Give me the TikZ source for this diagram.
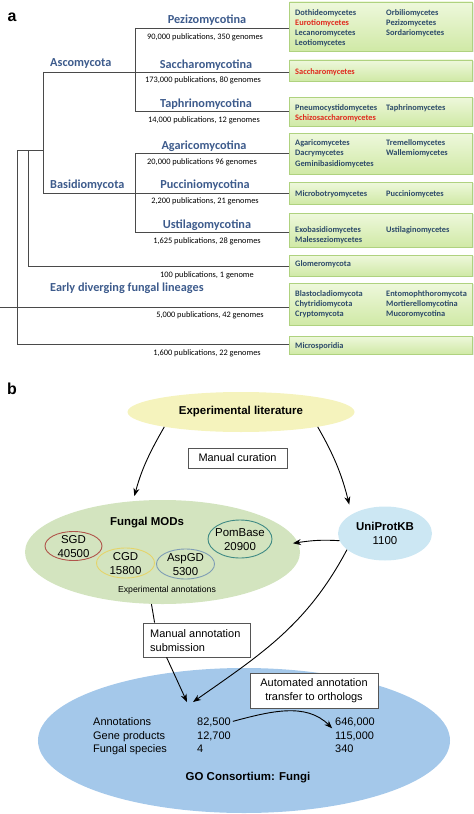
\documentclass[tikz,border=0pt]{standalone}
\usepackage{fontspec}
\setmainfont{Carlito}
\newfontfamily\arial{Liberation Sans}
\usetikzlibrary{shapes.geometric,arrows.meta,shadows,calc}
\definecolor{tline}{HTML}{4A4A4A}
\definecolor{lblue}{HTML}{3D5B8C}
\definecolor{btxt}{HTML}{2C4A6A}
\definecolor{bred}{HTML}{E02A1E}
\definecolor{gtop}{HTML}{EEF8DC}
\definecolor{gbot}{HTML}{D0E9A6}
\definecolor{gbord}{HTML}{AFD27F}
\definecolor{explitc}{HTML}{F5F3BD}
\definecolor{modsc}{HTML}{D3E4BF}
\definecolor{uniprotc}{HTML}{CCE7F3}
\definecolor{goc}{HTML}{A4C8EA}
\definecolor{sgdc}{HTML}{B0554B}
\definecolor{cgdc}{HTML}{E5D46A}
\definecolor{aspc}{HTML}{7E9DB5}
\definecolor{pomc}{HTML}{3F8A84}
\definecolor{boxln}{HTML}{555555}
\begin{document}
\begin{tikzpicture}[x=1bp,y=-1bp,
  tree/.style={draw=tline, line width=0.8bp},
  gbox/.style={rectangle, draw=gbord, line width=0.6bp, top color=gtop, bottom color=gbot,
     minimum width=183bp, inner sep=0, drop shadow={opacity=0.18,shadow xshift=1bp,shadow yshift=-1bp}},
  sub/.style={font=\fontsize{12.3}{14}\selectfont\bfseries, text=lblue, inner sep=0},
  phy/.style={sub, anchor=west},
  pub/.style={font=\fontsize{8.4}{10}\selectfont, inner sep=0},
  cls/.style={font=\fontsize{8.4}{10}\selectfont\bfseries, text=btxt, anchor=base west, inner sep=0},
  rcls/.style={cls, text=bred},
  bt/.style={font=\arial\fontsize{11}{14}\selectfont, inner sep=0},
  btb/.style={font=\arial\fontsize{11.5}{14}\selectfont\bfseries, inner sep=0},
  tbl/.style={bt, anchor=base west},
  wbox/.style={rectangle, draw=boxln, line width=0.8bp, fill=white, inner sep=0},
  ring/.style={ellipse, line width=0.9bp, inner sep=0},
  arr/.style={draw=black, line width=0.9bp, -{Stealth[length=8bp,width=6bp]}},
  panel/.style={font=\arial\fontsize{16}{18}\selectfont\bfseries, inner sep=0}
]
\useasboundingbox (0,0) rectangle (474,814);

% ---------------- panel a ----------------
\node[panel] (pa) at (12,17) {a};

% boxes
\node[gbox, minimum height=49bp] (b1) at (381,26.5) {};
\node[gbox, minimum height=21bp] (b2) at (381,70.5) {};
\node[gbox, minimum height=29bp] (b3) at (381,111.5) {};
\node[gbox, minimum height=41bp] (b4) at (381,153.5) {};
\node[gbox, minimum height=22bp] (b5) at (381,193) {};
\node[gbox, minimum height=34bp] (b6) at (381,230) {};
\node[gbox, minimum height=21bp] (b7) at (381,265.5) {};
\node[gbox, minimum height=42bp] (b8) at (381,304) {};
\node[gbox, minimum height=18bp] (b9) at (381,345) {};

% box texts
\node[cls] (c11) at (295,15.5) {Dothideomycetes};
\node[cls] (c12) at (386,15.5) {Orbiliomycetes};
\node[rcls] (c13) at (295,25.5) {Eurotiomycetes};
\node[cls] (c14) at (386,25.5) {Pezizomycetes};
\node[cls] (c15) at (295,35.5) {Lecanoromycetes};
\node[cls] (c16) at (386,35.5) {Sordariomycetes};
\node[cls] (c17) at (295,45.5) {Leotiomycetes};
\node[rcls] (c21) at (295,74.5) {Saccharomycetes};
\node[cls] (c31) at (295,110) {Pneumocystidomycetes};
\node[cls] (c32) at (386,110) {Taphrinomycetes};
\node[rcls] (c33) at (295,120) {Schizosaccharomycetes};
\node[cls] (c41) at (295,145) {Agaricomycetes};
\node[cls] (c42) at (386,145) {Tremellomycetes};
\node[cls] (c43) at (295,155.5) {Dacrymycetes};
\node[cls] (c44) at (386,155.5) {Wallemiomycetes};
\node[cls] (c45) at (295,166) {Geminibasidiomycetes};
\node[cls] (c51) at (295,196) {Microbotryomycetes};
\node[cls] (c52) at (386,196) {Pucciniomycetes};
\node[cls] (c61) at (295,232) {Exobasidiomycetes};
\node[cls] (c62) at (386,232) {Ustilaginomycetes};
\node[cls] (c63) at (295,242) {Malesseziomycetes};
\node[cls] (c71) at (295,266.5) {Glomeromycota};
\node[cls] (c81) at (295,296.5) {Blastocladiomycota};
\node[cls] (c82) at (386,296.5) {Entomophthoromycota};
\node[cls] (c83) at (295,306.5) {Chytridiomycota};
\node[cls] (c84) at (386,306.5) {Mortierellomycotina};
\node[cls] (c85) at (295,316.5) {Cryptomycota};
\node[cls] (c86) at (386,316.5) {Mucoromycotina};
\node[cls] (c91) at (295,348) {Microsporidia};

% tree joints
\coordinate (jPez) at (135,28);
\coordinate (jTap) at (135,111);
\coordinate (jAsc) at (43,72);
\coordinate (jBas) at (43,193);
\coordinate (jAga) at (135,153);
\coordinate (jUst) at (135,232);
\coordinate (jDik) at (17,150);
\coordinate (jDk2) at (43,150);
\coordinate (jGl) at (28,150);
\coordinate (jGlo) at (28,266);
\coordinate (jMic) at (17,344);
\coordinate (jEar) at (0,307);

\draw[tree] (jPez) -- (jTap);
\draw[tree] (jPez) -- (jPez -| b1.west);
\draw[tree] (jTap) -- (jTap -| b3.west);
\draw[tree] (jAsc) -- (jAsc -| b2.west);
\draw[tree] (jAsc) -- (jBas);
\draw[tree] (jBas) -- (jBas -| b5.west);
\draw[tree] (jAga) -- (jUst);
\draw[tree] (jAga) -- (jAga -| b4.west);
\draw[tree] (jUst) -- (jUst -| b6.west);
\draw[tree] (jDik) -- (jDk2);
\draw[tree] (jGl) -- (jGlo) -- (jGlo -| b7.west);
\draw[tree] (jDik) -- (jMic) -- (jMic -| b9.west);
\draw[tree] (jEar) -- (jEar -| b8.west);

% labels
\node[sub] (lPez) at (207,20) {Pezizomycotina};
\node[pub] (pPez) at (205,37) {90,000 publications, 350 genomes};
\node[phy] (lAsc) at (50,63) {Ascomycota};
\node[sub] (lSac) at (206,65) {Saccharomycotina};
\node[pub] (pSac) at (203,80) {173,000 publications, 80 genomes};
\node[sub] (lTap) at (206,104) {Taphrinomycotina};
\node[pub] (pTap) at (204,120) {14,000 publications, 12 genomes};
\node[sub] (lAga) at (204,146) {Agaricomycotina};
\node[pub] (pAga) at (202,162.5) {20,000 publications 96 genomes};
\node[phy] (lBas) at (50,185) {Basidiomycota};
\node[sub] (lPuc) at (205,185.5) {Pucciniomycotina};
\node[pub] (pPuc) at (205,201) {2,200 publications, 21 genomes};
\node[sub] (lUst) at (207,225) {Ustilagomycotina};
\node[pub] (pUst) at (207,241) {1,625 publications, 28 genomes};
\node[pub] (pGlo) at (207,275) {100 publications, 1 genome};
\node[phy] (lEar) at (50,288) {Early diverging fungal lineages};
\node[pub] (pEar) at (210,315.5) {5,000 publications, 42 genomes};
\node[pub] (pMic) at (207,353) {1,600 publications, 22 genomes};

% ---------------- panel b ----------------
\node[panel] (pb) at (12,389) {b};

\node[ellipse, fill=goc, minimum width=412bp, minimum height=145bp, inner sep=0] (go) at (244,740.5) {};
\node[ellipse, fill=explitc, minimum width=227bp, minimum height=40bp, inner sep=0,
      font=\arial\fontsize{11.5}{14}\selectfont\bfseries] (explit) at (241,412) {Experimental literature};
\node[wbox, minimum width=99bp, minimum height=20bp, font=\arial\fontsize{11}{14}\selectfont] (mcur) at (237.5,458) {Manual curation};

\node[ellipse, fill=modsc, minimum width=275bp, minimum height=104bp, inner sep=0] (mods) at (162.5,552) {};
\node[btb] (modst) at (147,523) {Fungal MODs};
\node[ring, draw=sgdc, minimum width=57bp, minimum height=29bp] (sgd) at (73.5,546) {};
\node[bt, align=center, font=\arial\fontsize{11.5}{14}\selectfont] (sgdt) at (73.5,547) {SGD\\40500};
\node[ring, draw=cgdc, minimum width=58bp, minimum height=30bp] (cgd) at (125.5,563) {};
\node[bt, align=center, font=\arial\fontsize{11.5}{14}\selectfont] (cgdt) at (125.5,563.5) {CGD\\15800};
\node[ring, draw=aspc, minimum width=58bp, minimum height=30bp] (asp) at (185.5,564) {};
\node[bt, align=center, font=\arial\fontsize{11.5}{14}\selectfont] (aspt) at (185.5,564.5) {AspGD\\5300};
\node[ring, draw=pomc, minimum width=64bp, minimum height=38bp] (pom) at (240,539) {};
\node[bt, align=center, font=\arial\fontsize{11.5}{14}\selectfont] (pomt) at (240,540) {PomBase\\20900};
\node[bt, font=\arial\fontsize{8.7}{10}\selectfont] (expann) at (167,590) {Experimental annotations};

\node[ellipse, fill=uniprotc, minimum width=94bp, minimum height=54bp, inner sep=0, align=center,
      font=\arial\fontsize{11.5}{14}\selectfont] (uni) at (385,533.5) {\textbf{UniProtKB}\\1100};

\node[wbox, minimum width=107bp, minimum height=34bp] (mab) at (196.5,640) {};
\node[bt, anchor=west, align=left] (mabt) at (150,641) {Manual annotation\\submission};
\node[wbox, minimum width=128bp, minimum height=35bp, align=center,
      font=\arial\fontsize{11}{14}\selectfont] (aut) at (314,690.5) {Automated annotation\\transfer to orthologs};

% table
\node[tbl] (t1) at (93,725) {Annotations};
\node[tbl] (t2) at (93,739) {Gene products};
\node[tbl] (t3) at (93,752.5) {Fungal species};
\node[tbl] (v1) at (197,725) {82,500};
\node[tbl] (v2) at (197,739) {12,700};
\node[tbl] (v3) at (197,752.5) {4};
\node[tbl] (r1) at (335,725) {646,000};
\node[tbl] (r2) at (335,739) {115,000};
\node[tbl] (r3) at (335,752.5) {340};
\node[btb] (gotitle) at (248,778) {GO Consortium: Fungi};

\coordinate (gotipA) at (187,702);
\coordinate (gotipB) at (193,702);

% connectors
\draw[arr, shorten >=5bp] (explit.191) to[out=-120, in=75] (mods.120);
\draw[arr, shorten >=10bp] (explit.349) to[out=-60, in=104] (uni.150);
\draw[arr, shorten >=-5bp] (uni.189) to[bend right=6] (mods.4);
\draw[arr] (uni.203) to[out=-118, in=35] (gotipB);
\draw[draw=black, line width=0.9bp] (mods.258) -- ([xshift=12bp]mab.north west);
\draw[arr] ([xshift=24bp]mab.south west) -- (gotipA);
\draw[arr, shorten <=2bp, shorten >=4bp] (v1.east |- v1.center) to[out=15, in=135] (r2.west |- r2.north);
\end{tikzpicture}
\end{document}
